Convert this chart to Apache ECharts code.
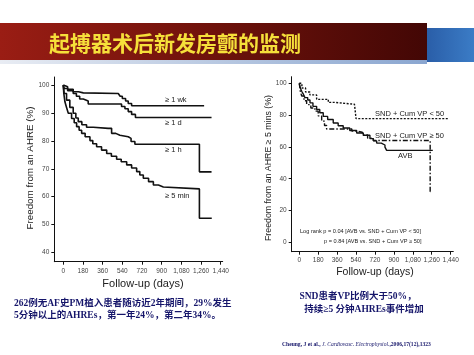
<!DOCTYPE html>
<html>
<head>
<meta charset="utf-8">
<script src="https://cdn.jsdelivr.net/npm/echarts@6/dist/echarts.min.js"></script>
<style>html,body{margin:0;padding:0;background:#fff;}#c{width:474px;height:355px;}</style>
</head>
<body>
<div id="c"></div>
<script>
// ---- data (days, % free of AHRE) ----
const leftTicksX = [0,180,360,540,720,900,1080,1260,1440];
const leftTicksY = [40,50,60,70,80,90,100];
const rightTicksX = [0,180,360,540,720,900,1080,1260,1440];
const rightTicksY = [0,20,40,60,80,100];

const wk = [[0,100],[10,99.4],[40,98.5],[91,97.6],[140,97.2],[183,97.0],[503,96.9],[520,96.0],[540,95.2],[570,94.3],[594,93.4],[625,92.6],[1288,92.6]];
const d1 = [[0,100],[8,98.8],[40,98.0],[91,97.0],[120,96.0],[150,95.0],[183,94.3],[228,93.2],[503,93.2],[533,92.3],[564,91.5],[594,90.5],[625,89.5],[660,88.4],[1356,88.4]];
const h1 = [[0,100],[8,97],[30,94.6],[60,92],[91,89.9],[115,88.2],[137,86.9],[170,85.8],[213,84.9],[274,84.5],[411,84.5],[442,82.7],[480,82.0],[518,81.5],[594,80.9],[620,79.8],[655,78.8],[1245,78.8],[1245,68.9],[1356,68.9]];
const min5 = [[0,100],[5,97],[15,94],[30,92],[46,89.9],[76,88],[100,86.5],[122,85.1],[145,83.8],[168,82.7],[200,81.5],[244,80.1],[270,79],[305,77.9],[350,76.7],[397,75.5],[440,74.5],[488,73.4],[530,72.5],[580,71.4],[625,70.3],[671,69.0],[700,67.8],[732,66.6],[780,65.4],[824,64.2],[870,63.5],[915,62.8],[1245,62.8],[1245,52.3],[1358,52.3]];

const avb = [[0,100],[10,97],[23,95],[40,93],[54,91],[80,89.5],[102,87.7],[130,85.5],[165,83.5],[195,81.5],[228,79.2],[270,77.2],[323,75],[370,73.3],[418,71.9],[480,70.3],[546,68.7],[609,67.3],[672,65.2],[705,63.8],[736,62.4],[780,61.2],[815,59.9],[831,57.8],[1270,57.8]];
const ge50 = [[0,100],[10,95],[23,92],[45,89],[70,86.6],[110,84.5],[149,82.5],[180,79.5],[213,76.2],[240,73.5],[260,71.3],[466,71.3],[500,70],[540,69.2],[600,67.5],[650,65.5],[704,64.0],[1245,64.0],[1245,32],[1262,32]];
const lt50 = [[0,100],[25,97],[60,94.5],[101,92.7],[165,89.9],[250,89.9],[276,88],[339,86.8],[525,86.8],[540,77.8],[1420,77.8]];

const fmt = v => v >= 1000 ? Math.floor(v/1000) + ',' + String(v % 1000).padStart(3,'0') : String(v);

const chart = echarts.init(document.getElementById('c'), null, {renderer:'canvas'});
const axisCommon = {
  type:'value', splitLine:{show:false},
  axisLine:{show:true, onZero:false, lineStyle:{color:'#111', width:1}},
  axisTick:{show:true, length:3, lineStyle:{color:'#111'}},
  axisLabel:{fontSize:6.5, color:'#444', fontFamily:'Arial, Liberation Sans', formatter:fmt}
};
function ax(extra, ticks, margin){
  const a = JSON.parse(JSON.stringify(axisCommon));
  Object.assign(a, extra);
  a.axisTick.customValues = ticks;
  a.axisLabel.customValues = ticks;
  a.axisLabel.formatter = fmt;
  a.axisLabel.margin = margin;
  return a;
}
const KM = (data, xi, yi, w, type) => ({
  type:'line', xAxisIndex:xi, yAxisIndex:yi, data:data, step:'end', showSymbol:false, symbol:'none',
  animation:false, lineStyle:{color:'#111', width:w, type:type||'solid'}
});
const txt = (x, y, s, size, extra) => Object.assign({type:'text', x:x, y:y, style:Object.assign({text:s, fontSize:size, fill:'#222', fontFamily:'Arial, Liberation Sans', verticalAlign:'middle'}, extra||{})});

const option = {
  backgroundColor:'#fff',
  animation:false,
  grid:[
    {left:54.3, top:77, width:168.4, height:184.7},
    {left:291.7, top:76.7, width:161.6, height:175}
  ],
  xAxis:[
    ax({gridIndex:0, min:-82, max:1458}, leftTicksX, 6),
    ax({gridIndex:1, min:-72, max:1465}, rightTicksX, 5)
  ],
  yAxis:[
    ax({gridIndex:0, min:36.7, max:102.9}, leftTicksY, 5),
    ax({gridIndex:1, min:-5.9, max:104.15}, rightTicksY, 5)
  ],
  series:[
    KM(wk,0,0,1.6), KM(d1,0,0,1.6), KM(h1,0,0,1.6), KM(min5,0,0,1.6),
    KM(lt50,1,1,1.4,[2,1.5]), KM(ge50,1,1,1.4,[5,2,1.5,2]), KM(avb,1,1,1.4)
  ],
  graphic:[
    // header bars
    {type:'rect', shape:{x:0,y:59,width:427,height:5}, style:{fill:new echarts.graphic.LinearGradient(0,0,1,0,[{offset:0,color:'#e8ecf3'},{offset:1,color:'#8aa6d0'}])}, silent:true},
    {type:'rect', shape:{x:0,y:23,width:427,height:37}, style:{fill:new echarts.graphic.LinearGradient(0,0,1,0,[{offset:0,color:'#9a1d14'},{offset:0.5,color:'#6e120b'},{offset:1,color:'#430705'}])}, silent:true},
    {type:'rect', shape:{x:427,y:28,width:47,height:34}, style:{fill:new echarts.graphic.LinearGradient(0,0,1,0,[{offset:0,color:'#2a5ea8'},{offset:1,color:'#3b7cc6'}])}, silent:true},
    txt(49, 43, '起搏器术后新发房颤的监测', 21, {fill:'#f6e03a', fontWeight:'bold', fontFamily:'Noto Sans CJK SC'}),
    // axis names
    {type:'text', x:30, y:168, rotation:Math.PI/2, style:{text:'Freedom from an AHRE (%)', fontSize:9.8, fill:'#222', fontFamily:'Arial, Liberation Sans', align:'center', verticalAlign:'middle'}},
    txt(143, 284, 'Follow-up (days)', 11, {align:'center'}),
    txt(375, 272, 'Follow-up (days)', 10.5, {align:'center'}),
    {type:'text', x:269, y:168, rotation:Math.PI/2, style:{text:'Freedom from an AHRE ≥ 5 mins (%)', fontSize:8.8, fill:'#222', fontFamily:'Arial, Liberation Sans', align:'center', verticalAlign:'middle'}},
    // curve labels left
    txt(165, 100, '≥ 1 wk', 7.5), txt(165, 123, '≥ 1 d', 7.5), txt(165, 150, '≥ 1 h', 7.5), txt(165, 196, '≥ 5 min', 7.5),
    // curve labels right
    txt(375, 114, 'SND + Cum VP < 50', 7.5), txt(375, 136, 'SND + Cum VP ≥ 50', 7.5), txt(398, 156, 'AVB', 7.5),
    txt(300, 231, 'Log rank p = 0.04 [AVB vs. SND + Cum VP < 50]', 5.6),
    txt(324, 241, 'p = 0.84 [AVB vs. SND + Cum VP ≥ 50]', 5.6),
    // notes
    txt(14, 304, '262例无AF史PM植入患者随访近2年期间，29%发生', 9.5, {fill:'#15156a', fontWeight:'bold', fontFamily:'Liberation Serif, Noto Sans CJK SC'}),
    txt(14, 316, '5分钟以上的AHREs，第一年24%，第二年34%。', 9.5, {fill:'#15156a', fontWeight:'bold', fontFamily:'Liberation Serif, Noto Sans CJK SC'}),
    txt(358, 297, 'SND患者VP比例大于50%，', 9.5, {align:'center', fill:'#15156a', fontWeight:'bold', fontFamily:'Liberation Serif, Noto Sans CJK SC'}),
    txt(364, 310, '持续≥5 分钟AHREs事件增加', 9.5, {align:'center', fill:'#15156a', fontWeight:'bold', fontFamily:'Liberation Serif, Noto Sans CJK SC'}),
    {type:'text', x:282, y:345, style:{text:'{a|Cheung, J et al., }{b|J. Cardiovasc. Electrophysiol.}{a|,2006,17(12),1323}', verticalAlign:'middle',
      rich:{a:{fontSize:5.6, fill:'#15156a', fontWeight:'bold', fontFamily:'Liberation Serif'}, b:{fontSize:5.6, fill:'#15156a', fontStyle:'italic', fontFamily:'Liberation Serif'}}}}
  ]
};
chart.setOption(option);
</script>
</body>
</html>
